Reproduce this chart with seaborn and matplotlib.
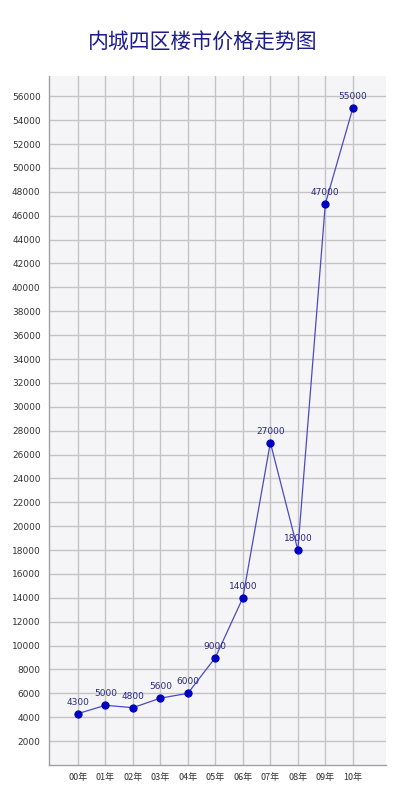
import numpy as np
import pandas as pd
import matplotlib
matplotlib.use('Agg')
import matplotlib.pyplot as plt
import seaborn as sns

# 数据
years = ['00年', '01年', '02年', '03年', '04年', '05年', '06年', '07年', '08年', '09年', '10年']
prices = [4300, 5000, 4800, 5600, 6000, 9000, 14000, 27000, 18000, 47000, 55000]
y_ticks = list(range(2000, 56001, 2000))

df = pd.DataFrame({'x': np.arange(len(years)), 'price': prices})

sns.set_style('white')
plt.rcParams['font.family'] = ['Noto Sans CJK SC', 'DejaVu Sans']

fig = plt.figure(figsize=(4.04, 8), dpi=100)
ax = fig.add_axes([0.1213, 0.04375, 0.8337, 0.86125])
ax.set_facecolor('#f5f5f7')

sns.lineplot(data=df, x='x', y='price', ax=ax, color='#4a4ac8', linewidth=0.9,
             marker='o', markersize=5.2, markerfacecolor='#0000c0',
             markeredgecolor='#0000c0', zorder=3)

for xi, v in zip(df['x'], df['price']):
    ax.annotate(str(v), xy=(xi, v), xytext=(0, 5), textcoords='offset points',
                ha='center', va='bottom', fontsize=6.5, color='#2a2a80',
                family=['DejaVu Sans'])

ax.set_xlim(-1.05, 11.2)
ax.set_ylim(0, 57700)
ax.set_xticks(df['x'])
ax.set_xticklabels(years, fontsize=6.5, color='#333333')
ax.set_yticks(y_ticks)
ax.set_yticklabels([str(t) for t in y_ticks], fontsize=6.5, color='#333333',
                   family=['DejaVu Sans'])
ax.tick_params(axis='both', length=0, pad=6)
ax.grid(True, color='#c4c4c4', linewidth=1)
ax.set_axisbelow(True)
ax.set_xlabel('')
ax.set_ylabel('')

for side in ['top', 'right']:
    ax.spines[side].set_visible(False)
for side in ['left', 'bottom']:
    ax.spines[side].set_color('#a0a0a0')
    ax.spines[side].set_linewidth(1)

fig.text(0.502, 0.947, '内城四区楼市价格走势图', ha='center', va='center',
         fontsize=15, color='#1c1c8c')

fig.savefig('out.png', dpi=100)
